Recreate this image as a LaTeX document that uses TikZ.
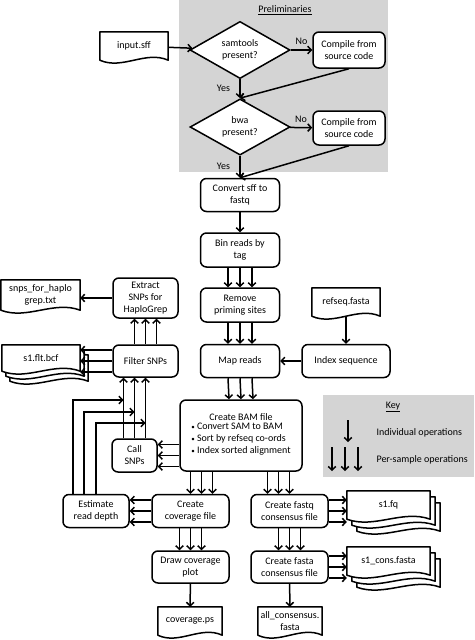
\documentclass[tikz,border=0pt]{standalone}
\usepackage{fontspec}
\setmainfont{Carlito}
\usepackage{tikz}
\usetikzlibrary{calc}
\usetikzlibrary{shapes.geometric}
\usetikzlibrary{arrows.meta}
\usetikzlibrary{backgrounds}
\tikzset{
  box/.style={draw, line width=1.5pt, rounded corners=6pt, fill=white, align=center, inner sep=1pt},
  docnode/.style={align=center, inner sep=1pt},
  ask/.style={draw, diamond, line width=1.5pt, fill=white, align=center, inner sep=0pt, minimum width=100pt, minimum height=56pt},
  arr/.style={line width=1.5pt, -{Straight Barb[length=3.5pt,width=7.5pt]}},
  shade/.style={fill=black!17}
}
\newcommand{\docshape}[3]{\filldraw[fill=white, line width=1.5pt, line join=round] ([shift={(#2,#3)}]#1.north west) -- ([shift={(#2,#3)}]#1.north east) -- ([shift={(#2,#3)}]#1.south east) .. controls ($(#1.south east)!0.33!(#1.south west)+(#2,#3+10)$) and ($(#1.south west)!0.33!(#1.south east)+(#2,#3-10)$) .. ([shift={(#2,#3)}]#1.south west) -- cycle;}
\newcommand{\stackdoc}[3]{\docshape{#1}{2*#2}{2*#3}\docshape{#1}{#2}{#3}\docshape{#1}{0}{0}}
\newcommand{\smalldot}{{\scriptsize\textbullet}~}

\begin{document}
\begin{tikzpicture}[x=1pt, y=1pt, font=\fontsize{10}{12}\selectfont]
        \useasboundingbox (0,0) rectangle (474,-640);
        %shaded areas
        \fill[shade] (179,0) rectangle (388,-172);
        \fill[shade] (323,-395) rectangle (474,-477);
        \node (prelim) at (285,-10) {\underline{Preliminaries}};
        \node (key) at (393,-407) {\underline{Key}};

        %preliminaries
        \node[docnode, minimum width=68pt, minimum height=28pt] (input) at (134,-46) {input.sff};
        \node[ask] (samtools) at (240,-50) {samtools\\present?};
        \node[box, minimum width=72pt, minimum height=36pt] (comp1) at (349,-50) {Compile from\\source code};
        \node[ask] (bwa) at (240,-127) {bwa\\present?};
        \node[box, minimum width=72pt, minimum height=34pt] (comp2) at (349,-128) {Compile from\\source code};

        %main column
        \node[box, minimum width=79pt, minimum height=33pt] (convert) at (240,-195) {Convert sff to\\fastq};
        \node[box, minimum width=79pt, minimum height=34pt] (bin) at (240,-250) {Bin reads by\\tag};
        \node[box, minimum width=79pt, minimum height=34pt] (remove) at (240,-305) {Remove\\priming sites};
        \node[box, minimum width=79pt, minimum height=33pt] (map) at (240,-361) {Map reads};
        \node[docnode, minimum width=68pt, minimum height=28pt] (refseq) at (346,-302) {refseq.fasta};
        \node[box, minimum width=88pt, minimum height=33pt] (index) at (346,-361) {Index sequence};
        \node[box, minimum width=122pt, minimum height=71pt] (bam) at (241,-435.5) {Create BAM file\\\begin{tabular}{@{}l@{}}\smalldot Convert SAM to BAM\\\smalldot Sort by refseq co-ords\\\smalldot Index sorted alignment\end{tabular}};

        %snps
        \node[box, minimum width=65pt, minimum height=40pt] (extract) at (145.5,-298) {Extract\\SNPs for\\HaploGrep};
        \node[docnode, minimum width=79pt, minimum height=30pt] (snps) at (40.5,-295) {snps\_for\_haplo\\grep.txt};
        \node[box, minimum width=65pt, minimum height=32pt] (filter) at (145.5,-361) {Filter SNPs};
        \node[docnode, minimum width=78pt, minimum height=26pt] (bcf) at (41,-358) {s1.flt.bcf};
        \node[box, minimum width=45pt, minimum height=33pt] (call) at (134.5,-455.5) {Call\\SNPs};

        %coverage and consensus
        \node[box, minimum width=66pt, minimum height=33pt] (estimate) at (96,-511) {Estimate\\read depth};
        \node[box, minimum width=77pt, minimum height=33pt] (cov) at (190.5,-511) {Create\\coverage file};
        \node[box, minimum width=77pt, minimum height=33pt] (fastq) at (289.5,-511) {Create fastq\\consensus file};
        \node[docnode, minimum width=83pt, minimum height=28pt] (s1fq) at (388.5,-505) {s1.fq};
        \node[box, minimum width=77pt, minimum height=32pt] (draw) at (190.5,-567) {Draw coverage\\plot};
        \node[box, minimum width=77pt, minimum height=32pt] (fasta) at (289.5,-567) {Create fasta\\consensus file};
        \node[docnode, minimum width=83pt, minimum height=28pt] (s1cons) at (388.5,-561) {s1\_cons.fasta};
        \node[docnode, minimum width=64pt, minimum height=28pt] (covps) at (190,-621) {coverage.ps};
        \node[docnode, minimum width=64pt, minimum height=28pt] (allcons) at (290,-621) {all\_consensus.\\fasta};

        %document outlines
        \begin{pgfonlayer}{background}
        \docshape{input}{0}{0}
        \docshape{refseq}{0}{0}
        \docshape{snps}{0}{0}
        \docshape{covps}{0}{0}
        \docshape{allcons}{0}{0}
        \stackdoc{bcf}{4}{-5}
        \stackdoc{s1fq}{5}{-6}
        \stackdoc{s1cons}{5}{-6}
        \end{pgfonlayer}

        %preliminary arrows
        \draw[arr] (input) -- (samtools);
        \draw[arr] (samtools) -- node[above=1pt] {No} (comp1);
        \draw[arr] (samtools) -- node[left=6pt] {Yes} (bwa);
        \draw[arr] (comp1.south) -- (bwa.north);
        \draw[arr] (bwa) -- node[above=1pt] {No} (comp2);
        \draw[arr] (bwa) -- node[left=6pt] {Yes} (convert);
        \draw[arr] (comp2.south) -- (convert.north);

        %single arrows
        \draw[arr] (convert) -- (bin);
        \draw[arr] (refseq) -- (index);
        \draw[arr] (index) -- (map);
        \draw[arr] (extract.west) -- (extract.west -| snps.east);
        \draw[arr] (draw) -- (covps);
        \draw[arr] (fasta) -- (allcons);

        %per-sample arrows
        \foreach \d in {-12,0,12} {
        \draw[arr] ([xshift=\d pt]bin.south) -- ([xshift=\d pt]remove.north);
        \draw[arr] ([xshift=\d pt]remove.south) -- ([xshift=\d pt]map.north);
        \draw[arr] ([xshift=\d pt]map.south) -- ([xshift=\d pt]bam.north);}
        \foreach \d in {-11,0,11} {
        \draw[arr] ([yshift=\d pt]call.east -| bam.west) -- ([yshift=\d pt]call.east);
        \draw[arr] ([xshift=\d pt]call.north) -- ([xshift=\d pt]call.north |- filter.south);
        \draw[arr] ([xshift=\d pt]filter.north) -- ([xshift=\d pt]extract.south);
        \draw[arr] ([yshift=\d pt]filter.west) -- ([yshift=\d pt]filter.west -| bcf.east);
        \draw[arr] ([yshift=\d pt]cov.west) -- ([yshift=\d pt]cov.west -| estimate.east);
        \draw[arr] ([xshift=\d pt]cov.south) -- ([xshift=\d pt]draw.north);
        \draw[arr] ([xshift=\d pt]fastq.south) -- ([xshift=\d pt]fasta.north);
        \draw[arr] ([yshift=\d pt]fastq.east) -- ([yshift=\d pt]fastq.east -| s1fq.west);
        \draw[arr] ([yshift=\d pt]fasta.east) -- ([yshift=\d pt]fasta.east -| s1cons.west);}
        \foreach \d in {0,11,22} {
        \draw[arr] ([xshift=\d pt]cov.north |- bam.south) -- ([xshift=\d pt]cov.north);
        \draw[arr] ([xshift=-\d pt]fastq.north |- bam.south) -- ([xshift=-\d pt]fastq.north);}
        \foreach \a/\b/\h in {-23/-11/400, -12/0/412, 0/11/423}
        \draw[arr] ([xshift=\a pt]estimate.north) |- ([xshift=\b pt]call.north |- 0,-\h);

        %key
        \coordinate (k1) at (348,-420);
        \coordinate (k2) at (348,-442);
        \draw[arr] (k1) -- (k2);
        \foreach \d in {-13,0,13} {
        \coordinate (t1) at (345+\d,-447);
        \coordinate (t2) at (345+\d,-471);
        \draw[arr] (t1) -- (t2);}
        \node[anchor=west] (single) at (373,-433) {Individual operations};
        \node[anchor=west] (multi) at (373,-460) {Per-sample operations};
    \end{tikzpicture}
\end{document}
